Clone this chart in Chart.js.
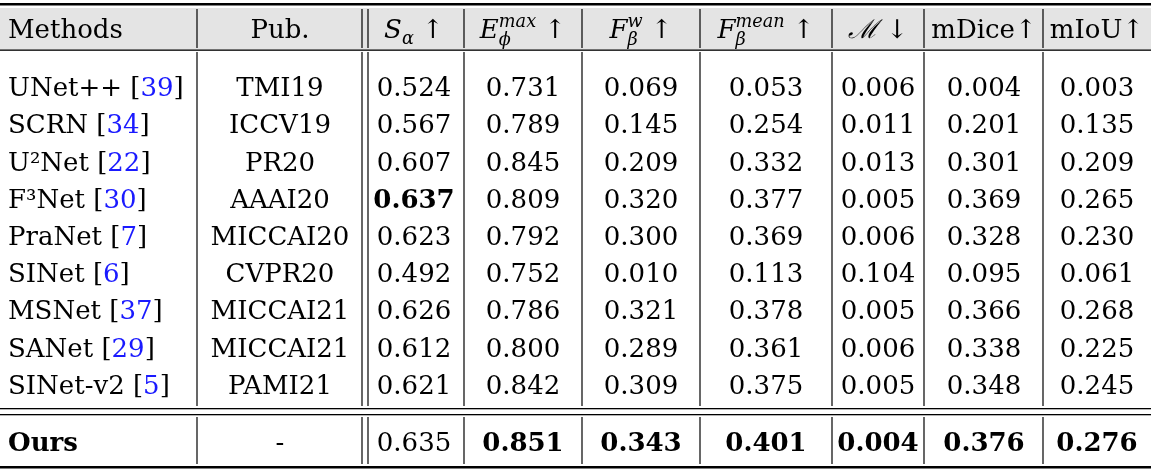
<!DOCTYPE html>
<html><head><meta charset="utf-8">
<script src="https://cdn.jsdelivr.net/npm/chart.js@4"></script>
<style>html,body{margin:0;padding:0;background:#fff}</style>
</head><body>
<canvas id="c" width="1151" height="471"></canvas>
<script>
const methods = ["UNet++","SCRN","U\u00b2Net","F\u00b3Net","PraNet","SINet","MSNet","SANet","SINet-v2","Ours"];
const cites = ["39","34","22","30","7","6","37","29","5",""];
const pubs = ["TMI19","ICCV19","PR20","AAAI20","MICCAI20","CVPR20","MICCAI21","MICCAI21","PAMI21","-"];
const sAlpha = [0.524,0.567,0.607,0.637,0.623,0.492,0.626,0.612,0.621,0.635];
const eMax   = [0.731,0.789,0.845,0.809,0.792,0.752,0.786,0.800,0.842,0.851];
const fW     = [0.069,0.145,0.209,0.320,0.300,0.010,0.321,0.289,0.309,0.343];
const fMean  = [0.053,0.254,0.332,0.377,0.369,0.113,0.378,0.361,0.375,0.401];
const mae    = [0.006,0.011,0.013,0.005,0.006,0.104,0.005,0.006,0.005,0.004];
const mDice  = [0.004,0.201,0.301,0.369,0.328,0.095,0.366,0.338,0.348,0.376];
const mIoU   = [0.003,0.135,0.209,0.265,0.230,0.061,0.268,0.225,0.245,0.276];
const rowPos = [0,1,2,3,4,5,6,7,8,9.53];

const metricCols = [sAlpha,eMax,fW,fMean,mae,mDice,mIoU];
const colCenters = [414,523,641,766,878,984,1097];
const vlines = [197,362,368,464,582,700,832,924,1043];
const FS = 26, SERIF = '"DejaVu Serif","Liberation Serif",serif';
function font(st, sz){ return (st.includes('i')?'italic ':'')+(st.includes('b')?'bold ':'')+sz+'px '+SERIF; }
function segW(ctx,s){ const sz = s.p? FS*0.68 : FS; ctx.font=font(s.s||'',sz); return ctx.measureText(s.t).width; }
function drawRich(ctx, segs, x, y, align){
  let w=0; segs.forEach(s=>w+=segW(ctx,s));
  let cx = align==='center'? x-w/2 : x;
  segs.forEach(s=>{
    const sz = s.p? FS*0.68 : FS; ctx.font=font(s.s||'',sz);
    ctx.fillStyle = s.c||'#000'; ctx.textBaseline='alphabetic';
    const dy = s.p==='sup'? -11 : s.p==='sub'? 6 : 0;
    ctx.fillText(s.t, cx, y+dy); cx += ctx.measureText(s.t).width;
  });
}
const tablePlugin = {id:'tbl', afterDraw(chart){
  const ctx=chart.ctx, ys=chart.scales.y;
  const base = v=>ys.getPixelForValue(v)+9;
  ctx.save();
  ctx.fillStyle='#e4e4e4'; ctx.fillRect(0,8,1151,42);
  ctx.fillStyle='#000';
  ctx.fillRect(0,3,1151,2.5); ctx.fillRect(0,49.5,1151,1.3);
  ctx.fillRect(0,408,1151,1.3); ctx.fillRect(0,414,1151,1.3); ctx.fillRect(0,466,1151,2.5);
  ctx.strokeStyle='#000'; ctx.lineWidth=1.2;
  vlines.forEach(x=>{ [[9,48],[52,406],[417,464]].forEach(([a,b])=>{ctx.beginPath();ctx.moveTo(x,a);ctx.lineTo(x,b);ctx.stroke();}); });
  const hy = base(-1.557);
  drawRich(ctx,[{t:'Methods'}],8,hy,'left');
  drawRich(ctx,[{t:'Pub.'}],280,hy,'center');
  const heads = [
    [{t:'S',s:'i'},{t:'\u03b1',s:'i',p:'sub'},{t:' \u2191'}],
    [{t:'E',s:'i'},{t:'max',s:'i',p:'sup'},{t:' \u2191'}],
    [{t:'F',s:'i'},{t:'w',s:'i',p:'sup'},{t:' \u2191'}],
    [{t:'F',s:'i'},{t:'mean',s:'i',p:'sup'},{t:' \u2191'}],
    [{t:'\u2133',s:'i'},{t:' \u2193'}],
    [{t:'mDice\u2191'}],[{t:'mIoU\u2191'}]];
  heads.forEach((h,i)=>drawRich(ctx,h,colCenters[i],hy,'center'));
  ctx.font=font('i',FS*0.68);
  [[1,'\u03d5'],[2,'\u03b2'],[3,'\u03b2']].forEach(([i,ch])=>{
    let w=0; heads[i].forEach(s=>w+=segW(ctx,s));
    const x0 = colCenters[i]-w/2+segW(ctx,heads[i][0]);
    ctx.font=font('i',FS*0.68); ctx.fillText(ch,x0,hy+7);
  });
  methods.forEach((m,r)=>{
    const y=base(rowPos[r]); const ours=r===methods.length-1;
    const segs=[{t:m,s:ours?'b':''}];
    if(cites[r]) segs.push({t:' ['},{t:cites[r],c:'#1a1aff'},{t:']'});
    drawRich(ctx,segs,8,y,'left');
    drawRich(ctx,[{t:pubs[r]}],280,y,'center');
    metricCols.forEach((col,ci)=>{
      const bold = (ours && ci!==0) || (ci===0 && r===3);
      drawRich(ctx,[{t:col[r].toFixed(3),s:bold?'b':''}],colCenters[ci],y,'center');
    });
  });
  ctx.restore();
}};
new Chart(document.getElementById('c'),{
  type:'scatter',
  data:{datasets:[{data:rowPos.map(v=>({x:0,y:v})),pointRadius:0}]},
  options:{responsive:false,animation:false,devicePixelRatio:1,
    layout:{padding:0},
    plugins:{legend:{display:false},tooltip:{enabled:false}},
    scales:{x:{type:'linear',min:0,max:1151,display:false},
            y:{type:'linear',min:-2.336,max:10.309,reverse:true,display:false}}},
  plugins:[tablePlugin]
});
</script>
</body></html>
